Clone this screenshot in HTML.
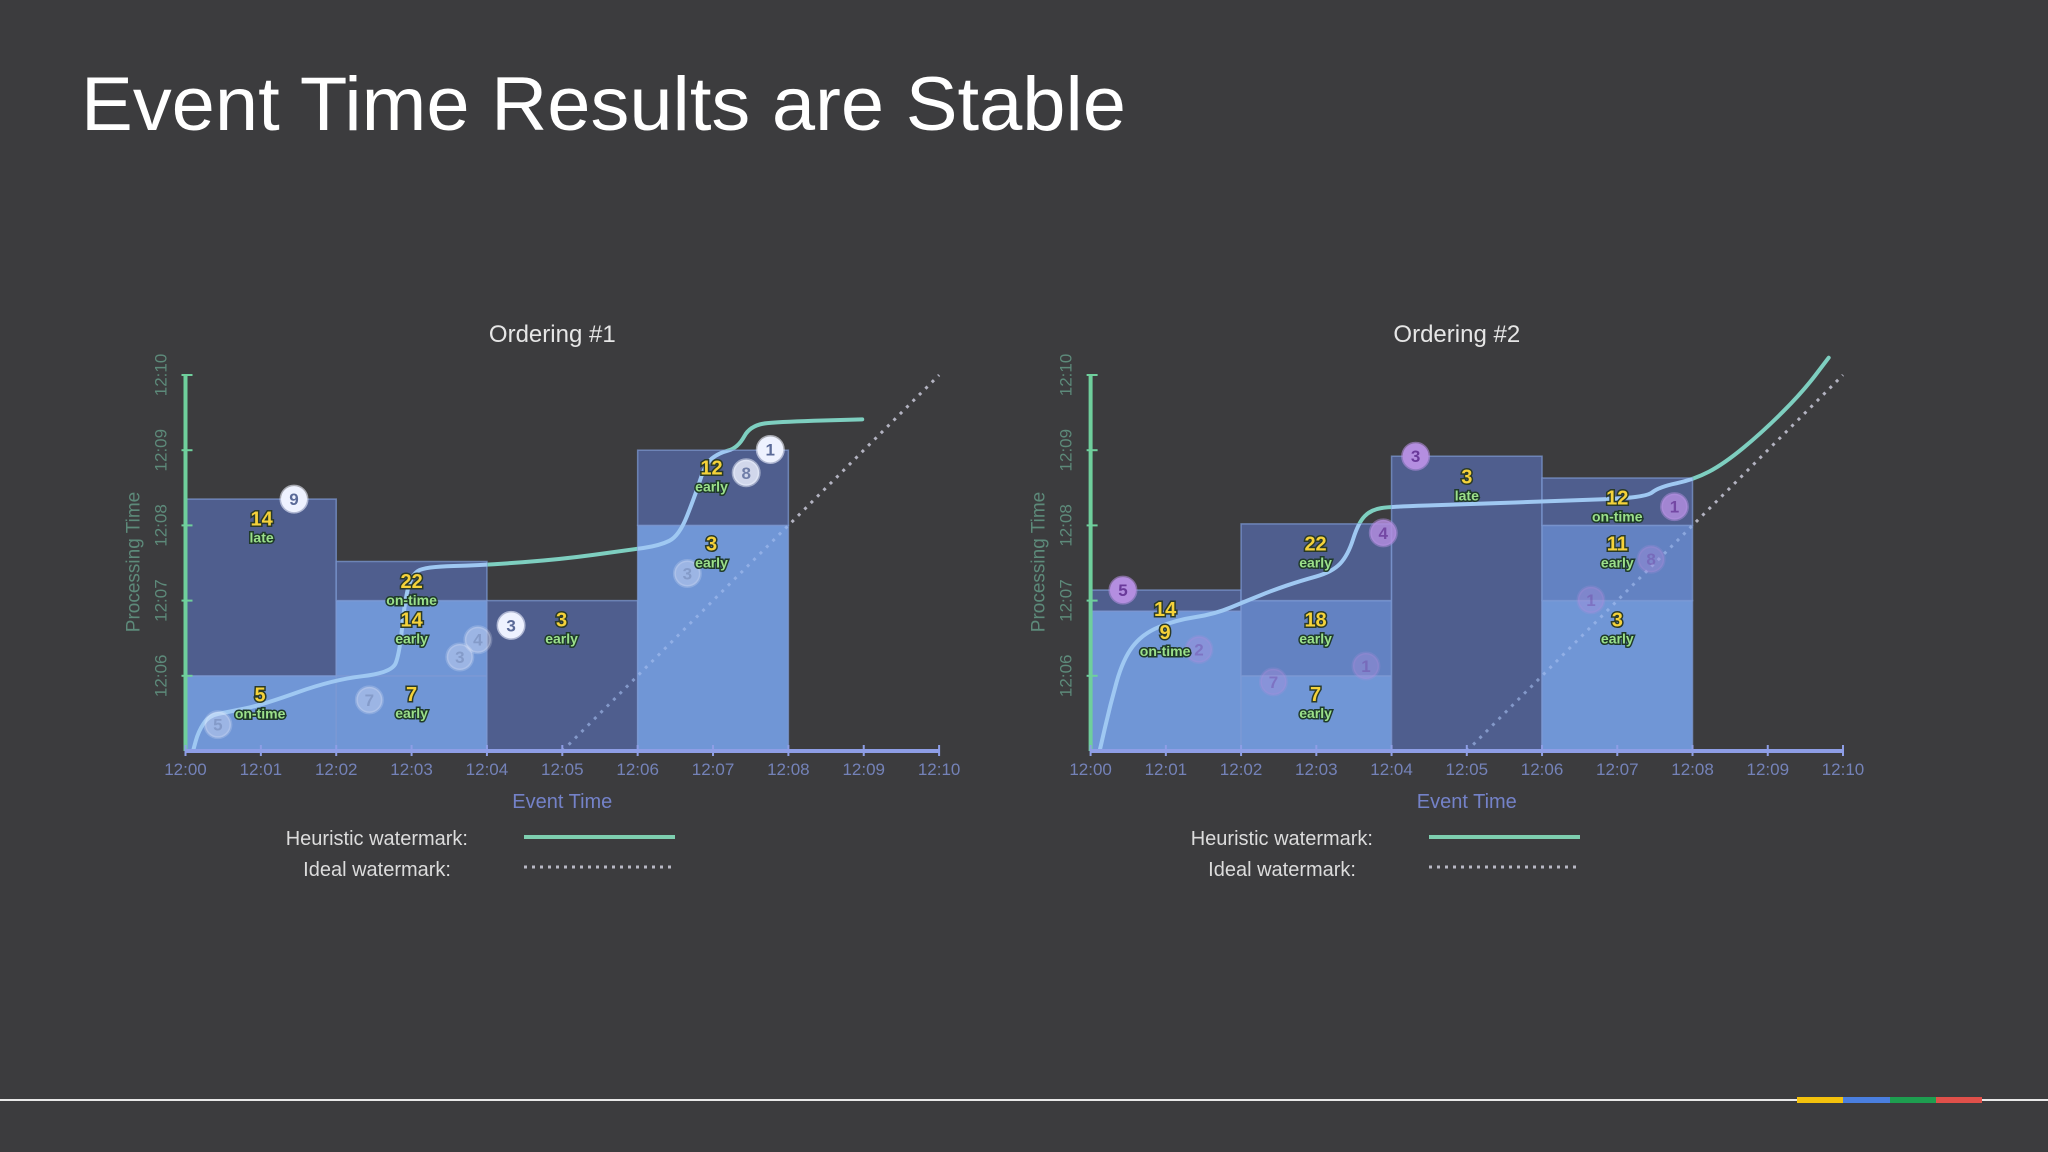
<!DOCTYPE html>
<html><head><meta charset="utf-8"><style>
html,body{margin:0;padding:0;background:#3c3c3e;}
svg{display:block;font-family:"Liberation Sans",sans-serif;}
</style></head><body>
<svg id="root" width="2048" height="1152" viewBox="0 0 2048 1152" xmlns="http://www.w3.org/2000/svg">
<defs id="defs"></defs>
<rect x="0" y="0" width="2048" height="1152" fill="#3c3c3e"/>
<text x="81" y="130" font-size="76" fill="#ffffff" textLength="1045" lengthAdjust="spacingAndGlyphs">Event Time Results are Stable</text>
<line x1="0" y1="1100" x2="2048" y2="1100" stroke="#e8e8e8" stroke-width="2"/>
<rect x="1797" y="1097" width="46" height="6" fill="#f4c20d"/>
<rect x="1843" y="1097" width="47" height="6" fill="#4a7fe0"/>
<rect x="1890" y="1097" width="46" height="6" fill="#1e9e50"/>
<rect x="1936" y="1097" width="46" height="6" fill="#e0504a"/>
<g id="charts"></g>
</svg>
<script>
// ---- data (minutes after 12:00) ----
const xTicks = ["12:00","12:01","12:02","12:03","12:04","12:05","12:06","12:07","12:08","12:09","12:10"];
const yTicks = ["12:06","12:07","12:08","12:09","12:10"];
const panelTitles = ["Ordering #1","Ordering #2"];
const windowStarts = [0,2,4,6];
const windowEnds = [2,4,6,8];
const bands1 = [[0,5,6,"light"],[0,6,8.35,"dark"],[1,5,6,"light"],[1,6,7,"light"],[1,7,7.52,"dark"],[2,5,7,"dark"],[3,5,8,"light"],[3,8,9,"dark"]];
const bands2 = [[0,5,6.86,"light"],[0,6.86,7.14,"dark"],[1,5,6,"light"],[1,6,7,"mid"],[1,7,8.02,"dark"],[2,5,8.92,"dark"],[3,5,7,"light"],[3,7,8,"mid"],[3,8,8.63,"dark"]];
const heurX1 = [0.10,0.17,0.31,0.57,1.01,1.96,2.74,2.84,2.91,3.0,3.17,3.95,4.99,5.86,6.29,6.55,6.76,6.90,7.07,7.33,7.50,7.94,8.98];
const heurY1 = [5.0,5.26,5.47,5.52,5.61,5.95,6.04,6.30,7.0,7.34,7.45,7.47,7.55,7.67,7.73,7.86,8.39,8.82,8.96,9.03,9.34,9.38,9.41];
const heurX2 = [0.12,0.26,0.43,0.69,1.13,1.65,2.08,2.43,2.78,3.21,3.42,3.56,3.73,3.99,4.95,6.34,7.38,7.55,8.02,8.42,8.94,9.46,9.81];
const heurY2 = [5.0,5.61,6.22,6.56,6.74,6.82,7.0,7.14,7.26,7.38,7.60,8.04,8.21,8.25,8.28,8.33,8.37,8.51,8.61,8.82,9.25,9.77,10.23];
const idealX = [5,10];
const idealY = [5,10];
const resVal1 = ["14","5","22","14","7","3","3","12"];
const resTag1 = ["late","on-time","on-time","early","early","early","early","early"];
const resX1 = [1.01,0.99,3.0,3.0,3.0,4.99,6.98,6.98];
const resY1 = [8.09,5.75,7.26,6.75,5.76,6.75,7.76,8.77];
const resVal2 = ["14","9","22","18","7","3","12","11","3"];
const resTag2 = ["","on-time","early","early","early","late","on-time","early","early"];
const resX2 = [0.99,0.99,2.99,2.99,2.99,5.0,7.0,7.0,7.0];
const resY2 = [6.89,6.58,7.76,6.75,5.76,8.65,8.37,7.76,6.75];
const dotVal1 = ["9","5","7","3","4","3","3","8","1"];
const dotX1 = [1.44,0.43,2.44,3.64,3.88,4.32,6.66,7.44,7.76];
const dotY1 = [8.35,5.35,5.68,6.25,6.48,6.67,7.36,8.70,9.01];
const dotOn1 = [1,0,0,0,0,1,0,0.6,1];
const dotVal2 = ["5","2","7","1","4","3","1","8","1"];
const dotX2 = [0.43,1.44,2.43,3.66,3.89,4.32,7.76,7.45,6.65];
const dotY2 = [7.14,6.35,5.92,6.13,7.90,8.92,8.25,7.55,7.01];
const dotOn2 = [1,0,0,0,0.6,1,0.6,0,0];

const NS = "http://www.w3.org/2000/svg";
const host = document.getElementById("charts");
const defs = document.getElementById("defs");
function mk(tag, attrs, parent){const e=document.createElementNS(NS,tag);for(const k in attrs)e.setAttribute(k,attrs[k]);(parent||host).appendChild(e);return e;}
const shadeFill = {light:"#7096d6", mid:"#6382c2", dark:"#4f5e8e"};

function panel(idx, x0, x10, bands, hx, hy, rv, rt, rx, ry, dv, dx, dy, don, dotFill, dotText){
  const yb = 751, yt = 375;
  const X = m => x0 + (x10 - x0) * m / 10;
  const Y = p => yb - (yb - yt) * (p - 5) / 5;
  const g = mk("g", {});
  
  
  const t = mk("text",{x:(X(0)+X(10))/2 - 10, y:342, "font-size":24, fill:"#e6e6e6","text-anchor":"middle"}, g);
  t.textContent = panelTitles[idx];
  
  
  let d = "M"+X(hx[0])+","+Y(hy[0]);
  for(let i=1;i<hx.length;i++){
    const px=X(hx[i-1]),py=Y(hy[i-1]),cx=X(hx[i]),cy=Y(hy[i]);
    const mx=(px+cx)/2,my=(py+cy)/2;
    d += " Q"+px+","+py+" "+mx+","+my;
  }
  d += " L"+X(hx[hx.length-1])+","+Y(hy[hy.length-1]);
  const il = mk("line",{x1:X(idealX[0]),y1:Y(idealY[0]),x2:X(idealX[1]),y2:Y(idealY[1]),stroke:"#c8c8d8","stroke-width":3,"stroke-dasharray":"3 6","stroke-opacity":0.85}, g);
  
  
  const hl = mk("path",{d:d,fill:"none",stroke:"#7ecfc0","stroke-width":4,"stroke-linecap":"round"}, g);
  
  
  const clip = mk("clipPath",{id:"paneclip"+idx}, defs);
  bands.forEach(b=>{
    const at = {x:X(windowStarts[b[0]]), y:Y(b[2]), width:X(windowEnds[b[0]])-X(windowStarts[b[0]]), height:Y(b[1])-Y(b[2])};
    const r = mk("rect",Object.assign({fill:shadeFill[b[3]], stroke:"#7f9bd6","stroke-width":1.5,"stroke-opacity":0.7}, at), g);
    
    
    mk("rect", at, clip);
  });
  const il2 = mk("line",{x1:X(idealX[0]),y1:Y(idealY[0]),x2:X(idealX[1]),y2:Y(idealY[1]),stroke:"#a6c0f0","stroke-width":3,"stroke-dasharray":"3 6","stroke-opacity":0.6,"clip-path":"url(#paneclip"+idx+")"}, g);
  
  
  const hl2 = mk("path",{d:d,fill:"none",stroke:"#9fc8f2","stroke-width":4,"stroke-linecap":"round","clip-path":"url(#paneclip"+idx+")"}, g);
  
  
  const ya = mk("line",{x1:X(0),y1:yb,x2:X(0),y2:yt,stroke:"#6fcf9c","stroke-width":4}, g);
  
  
  const xa = mk("line",{x1:X(0),y1:yb,x2:X(10),y2:yb,stroke:"#8e9ee6","stroke-width":4}, g);
  
  
  xTicks.forEach((lab,i)=>{
    mk("line",{x1:X(i),y1:yb-6,x2:X(i),y2:yb+5,stroke:"#8e9ee6","stroke-width":2}, g);
    const tx = mk("text",{x:X(i),y:775,"font-size":17,fill:"#7482b8","text-anchor":"middle"}, g);
    tx.textContent = lab;
    
    
  });
  yTicks.forEach((lab,i)=>{
    const yy = Y(6+i);
    mk("line",{x1:X(0)-4,y1:yy,x2:X(0)+7,y2:yy,stroke:"#6fcf9c","stroke-width":2}, g);
    const tx = mk("text",{x:0,y:0,"font-size":17,fill:"#5d8a7a","text-anchor":"middle",transform:"translate("+(X(0)-19)+","+yy+") rotate(-90)"}, g);
    tx.textContent = lab;
    
    
  });
  const yt2 = mk("text",{x:0,y:0,"font-size":19,fill:"#5d8a7a","text-anchor":"middle",transform:"translate("+(X(0)-46)+",562) rotate(-90)"}, g);
  yt2.textContent = "Processing Time";
  
  
  const xt = mk("text",{x:X(5),y:808,"font-size":20,fill:"#7482c8","text-anchor":"middle"}, g);
  xt.textContent = "Event Time";
  
  
  dv.forEach((v,i)=>{
    const cx=X(dx[i]), cy=Y(dy[i]);
    const op = don[i] ? (0.55+0.45*don[i]) : 0.35;
    const c = mk("circle",{cx:cx,cy:cy,r:13,fill:dotFill,"fill-opacity":op,stroke:dotFill,"stroke-width":3,"stroke-opacity":op*0.6}, g);
    
    
    const tx = mk("text",{x:cx,y:cy+6,"font-size":17,"font-weight":"bold",fill:dotText,"fill-opacity":op,"text-anchor":"middle"}, g);
    tx.textContent = v;
    
    
  });
  rv.forEach((v,i)=>{
    const cx=X(rx[i]), cy=Y(ry[i]);
    const n = mk("text",{x:cx,y:cy+7,"font-size":20,"font-weight":"bold",fill:"#f5d23a",stroke:"#2a3a28","stroke-width":3,"paint-order":"stroke","text-anchor":"middle"}, g);
    n.textContent = v;
    
    
    if(rt[i]){
      const w = mk("text",{x:cx,y:cy+24,"font-size":14,"font-weight":"bold",fill:"#9be08a",stroke:"#1f3a2a","stroke-width":3,"paint-order":"stroke","text-anchor":"middle"}, g);
      w.textContent = rt[i];
      
      
    }
  });
}
panel(0, 185.5, 939.1, bands1, heurX1, heurY1, resVal1, resTag1, resX1, resY1, dotVal1, dotX1, dotY1, dotOn1, "#eef2ff", "#5a6a98");
panel(1, 1090.6, 1843, bands2, heurX2, heurY2, resVal2, resTag2, resX2, resY2, dotVal2, dotX2, dotY2, dotOn2, "#b48ee0", "#6a3a9a");

function legend(textRight, lx1, lx2, idx){
  const a = mk("text",{x:textRight,y:845,"font-size":20,fill:"#dcdcdc","text-anchor":"end"});
  a.textContent = "Heuristic watermark:";
  
  
  const b = mk("text",{x:textRight-17,y:876,"font-size":20,fill:"#dcdcdc","text-anchor":"end"});
  b.textContent = "Ideal watermark:";
  
  
  const l1 = mk("line",{x1:lx1,y1:837,x2:lx2,y2:837,stroke:"#7ecfb0","stroke-width":4});
  
  
  const l2 = mk("line",{x1:lx1,y1:867,x2:lx2,y2:867,stroke:"#b8b8c4","stroke-width":3,"stroke-dasharray":"3 5"});
  
  
}
legend(468, 524, 675, 0);
legend(1373, 1429, 1580, 1);
</script>
</body></html>
